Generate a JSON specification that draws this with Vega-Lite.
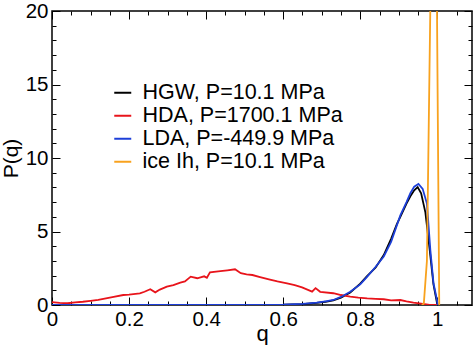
{
  "$schema": "https://vega.github.io/schema/vega-lite/v6.json",
  "width": 420,
  "height": 294,
  "autosize": "none",
  "padding": {"left": 52, "top": 11, "right": 2, "bottom": 40},
  "config": {
    "view": {"stroke": "#000000", "strokeWidth": 1.5},
    "font": "Liberation Sans",
    "axis": {"grid": false, "domain": false, "labelFont": "Liberation Sans", "labelFontSize": 20.5, "labelColor": "#000000", "titleFont": "Liberation Sans", "titleFontWeight": "normal", "titleColor": "#000000", "tickColor": "#000000", "tickWidth": 1, "labelFlush": false, "labelOverlap": false}
  },
  "data": {"values": [
    {"s": "HGW, P=10.1 MPa", "q": 0.0, "P": 0},
    {"s": "HGW, P=10.1 MPa", "q": 0.4, "P": 0},
    {"s": "HGW, P=10.1 MPa", "q": 0.6, "P": 0.02},
    {"s": "HGW, P=10.1 MPa", "q": 0.65, "P": 0.06},
    {"s": "HGW, P=10.1 MPa", "q": 0.687, "P": 0.14},
    {"s": "HGW, P=10.1 MPa", "q": 0.71, "P": 0.22},
    {"s": "HGW, P=10.1 MPa", "q": 0.73, "P": 0.32},
    {"s": "HGW, P=10.1 MPa", "q": 0.75, "P": 0.5},
    {"s": "HGW, P=10.1 MPa", "q": 0.774, "P": 0.85},
    {"s": "HGW, P=10.1 MPa", "q": 0.8, "P": 1.45},
    {"s": "HGW, P=10.1 MPa", "q": 0.817, "P": 1.95},
    {"s": "HGW, P=10.1 MPa", "q": 0.84, "P": 2.55},
    {"s": "HGW, P=10.1 MPa", "q": 0.861, "P": 3.4},
    {"s": "HGW, P=10.1 MPa", "q": 0.88, "P": 4.5},
    {"s": "HGW, P=10.1 MPa", "q": 0.895, "P": 5.5},
    {"s": "HGW, P=10.1 MPa", "q": 0.904, "P": 6.0},
    {"s": "HGW, P=10.1 MPa", "q": 0.92, "P": 6.9},
    {"s": "HGW, P=10.1 MPa", "q": 0.93, "P": 7.4},
    {"s": "HGW, P=10.1 MPa", "q": 0.94, "P": 7.8},
    {"s": "HGW, P=10.1 MPa", "q": 0.949, "P": 8.02},
    {"s": "HGW, P=10.1 MPa", "q": 0.958, "P": 7.6},
    {"s": "HGW, P=10.1 MPa", "q": 0.969, "P": 6.3},
    {"s": "HGW, P=10.1 MPa", "q": 0.98, "P": 3.8},
    {"s": "HGW, P=10.1 MPa", "q": 0.99, "P": 1.4},
    {"s": "HGW, P=10.1 MPa", "q": 0.998, "P": 0.3},
    {"s": "HGW, P=10.1 MPa", "q": 1.0, "P": 0},

    {"s": "HDA, P=1700.1 MPa", "q": 0.0, "P": 0.2},
    {"s": "HDA, P=1700.1 MPa", "q": 0.02, "P": 0.15},
    {"s": "HDA, P=1700.1 MPa", "q": 0.04, "P": 0.12},
    {"s": "HDA, P=1700.1 MPa", "q": 0.06, "P": 0.18},
    {"s": "HDA, P=1700.1 MPa", "q": 0.08, "P": 0.22},
    {"s": "HDA, P=1700.1 MPa", "q": 0.1, "P": 0.28},
    {"s": "HDA, P=1700.1 MPa", "q": 0.12, "P": 0.35},
    {"s": "HDA, P=1700.1 MPa", "q": 0.14, "P": 0.45},
    {"s": "HDA, P=1700.1 MPa", "q": 0.16, "P": 0.55},
    {"s": "HDA, P=1700.1 MPa", "q": 0.185, "P": 0.68},
    {"s": "HDA, P=1700.1 MPa", "q": 0.2, "P": 0.7},
    {"s": "HDA, P=1700.1 MPa", "q": 0.228, "P": 0.79},
    {"s": "HDA, P=1700.1 MPa", "q": 0.24, "P": 0.9},
    {"s": "HDA, P=1700.1 MPa", "q": 0.255, "P": 1.07},
    {"s": "HDA, P=1700.1 MPa", "q": 0.268, "P": 0.86},
    {"s": "HDA, P=1700.1 MPa", "q": 0.28, "P": 1.05},
    {"s": "HDA, P=1700.1 MPa", "q": 0.298, "P": 1.25},
    {"s": "HDA, P=1700.1 MPa", "q": 0.315, "P": 1.35},
    {"s": "HDA, P=1700.1 MPa", "q": 0.333, "P": 1.52},
    {"s": "HDA, P=1700.1 MPa", "q": 0.345, "P": 1.6},
    {"s": "HDA, P=1700.1 MPa", "q": 0.36, "P": 1.93},
    {"s": "HDA, P=1700.1 MPa", "q": 0.377, "P": 1.82},
    {"s": "HDA, P=1700.1 MPa", "q": 0.395, "P": 1.95},
    {"s": "HDA, P=1700.1 MPa", "q": 0.402, "P": 1.85},
    {"s": "HDA, P=1700.1 MPa", "q": 0.41, "P": 2.22},
    {"s": "HDA, P=1700.1 MPa", "q": 0.437, "P": 2.3},
    {"s": "HDA, P=1700.1 MPa", "q": 0.455, "P": 2.36},
    {"s": "HDA, P=1700.1 MPa", "q": 0.475, "P": 2.43},
    {"s": "HDA, P=1700.1 MPa", "q": 0.49, "P": 2.16},
    {"s": "HDA, P=1700.1 MPa", "q": 0.505, "P": 2.08},
    {"s": "HDA, P=1700.1 MPa", "q": 0.52, "P": 2.04},
    {"s": "HDA, P=1700.1 MPa", "q": 0.54, "P": 1.9},
    {"s": "HDA, P=1700.1 MPa", "q": 0.563, "P": 1.75},
    {"s": "HDA, P=1700.1 MPa", "q": 0.585, "P": 1.6},
    {"s": "HDA, P=1700.1 MPa", "q": 0.61, "P": 1.47},
    {"s": "HDA, P=1700.1 MPa", "q": 0.63, "P": 1.35},
    {"s": "HDA, P=1700.1 MPa", "q": 0.649, "P": 1.2},
    {"s": "HDA, P=1700.1 MPa", "q": 0.675, "P": 0.91},
    {"s": "HDA, P=1700.1 MPa", "q": 0.684, "P": 1.15},
    {"s": "HDA, P=1700.1 MPa", "q": 0.696, "P": 0.9},
    {"s": "HDA, P=1700.1 MPa", "q": 0.73, "P": 0.8},
    {"s": "HDA, P=1700.1 MPa", "q": 0.75, "P": 0.68},
    {"s": "HDA, P=1700.1 MPa", "q": 0.774, "P": 0.57},
    {"s": "HDA, P=1700.1 MPa", "q": 0.795, "P": 0.5},
    {"s": "HDA, P=1700.1 MPa", "q": 0.818, "P": 0.45},
    {"s": "HDA, P=1700.1 MPa", "q": 0.84, "P": 0.42},
    {"s": "HDA, P=1700.1 MPa", "q": 0.861, "P": 0.39},
    {"s": "HDA, P=1700.1 MPa", "q": 0.88, "P": 0.32},
    {"s": "HDA, P=1700.1 MPa", "q": 0.904, "P": 0.34},
    {"s": "HDA, P=1700.1 MPa", "q": 0.92, "P": 0.25},
    {"s": "HDA, P=1700.1 MPa", "q": 0.938, "P": 0.16},
    {"s": "HDA, P=1700.1 MPa", "q": 0.963, "P": 0.07},
    {"s": "HDA, P=1700.1 MPa", "q": 0.98, "P": 0.0},
    {"s": "HDA, P=1700.1 MPa", "q": 1.0, "P": 0.0},

    {"s": "LDA, P=-449.9 MPa", "q": 0.0, "P": 0},
    {"s": "LDA, P=-449.9 MPa", "q": 0.4, "P": 0},
    {"s": "LDA, P=-449.9 MPa", "q": 0.6, "P": 0.03},
    {"s": "LDA, P=-449.9 MPa", "q": 0.65, "P": 0.08},
    {"s": "LDA, P=-449.9 MPa", "q": 0.687, "P": 0.16},
    {"s": "LDA, P=-449.9 MPa", "q": 0.71, "P": 0.25},
    {"s": "LDA, P=-449.9 MPa", "q": 0.73, "P": 0.34},
    {"s": "LDA, P=-449.9 MPa", "q": 0.75, "P": 0.55},
    {"s": "LDA, P=-449.9 MPa", "q": 0.774, "P": 0.9},
    {"s": "LDA, P=-449.9 MPa", "q": 0.8, "P": 1.4},
    {"s": "LDA, P=-449.9 MPa", "q": 0.817, "P": 1.9},
    {"s": "LDA, P=-449.9 MPa", "q": 0.84, "P": 2.6},
    {"s": "LDA, P=-449.9 MPa", "q": 0.861, "P": 3.3},
    {"s": "LDA, P=-449.9 MPa", "q": 0.88, "P": 4.3},
    {"s": "LDA, P=-449.9 MPa", "q": 0.904, "P": 6.1},
    {"s": "LDA, P=-449.9 MPa", "q": 0.92, "P": 7.0},
    {"s": "LDA, P=-449.9 MPa", "q": 0.93, "P": 7.6},
    {"s": "LDA, P=-449.9 MPa", "q": 0.94, "P": 8.05},
    {"s": "LDA, P=-449.9 MPa", "q": 0.951, "P": 8.23},
    {"s": "LDA, P=-449.9 MPa", "q": 0.962, "P": 7.9},
    {"s": "LDA, P=-449.9 MPa", "q": 0.973, "P": 6.9},
    {"s": "LDA, P=-449.9 MPa", "q": 0.982, "P": 3.7},
    {"s": "LDA, P=-449.9 MPa", "q": 0.99, "P": 1.5},
    {"s": "LDA, P=-449.9 MPa", "q": 0.999, "P": 0.34},
    {"s": "LDA, P=-449.9 MPa", "q": 1.001, "P": 0},

    {"s": "ice Ih, P=10.1 MPa", "q": 0.96, "P": 0},
    {"s": "ice Ih, P=10.1 MPa", "q": 0.965, "P": 0.1},
    {"s": "ice Ih, P=10.1 MPa", "q": 0.973, "P": 3},
    {"s": "ice Ih, P=10.1 MPa", "q": 0.982, "P": 20.5},
    {"s": "ice Ih, P=10.1 MPa", "q": 0.99, "P": 45},
    {"s": "ice Ih, P=10.1 MPa", "q": 0.999, "P": 20.5},
    {"s": "ice Ih, P=10.1 MPa", "q": 1.005, "P": 0}
  ]},
  "layer": [
    {
      "mark": {"type": "line", "clip": true, "strokeWidth": 1.8},
      "encoding": {
        "x": {"field": "q", "type": "quantitative", "scale": {"domain": [0, 1.09], "nice": false, "zero": false},
              "axis": {"orient": "bottom", "values": [0, 0.2, 0.4, 0.6, 0.8, 1], "format": "~g", "ticks": false, "labelPadding": 4, "title": "q", "titleFontSize": 22, "titlePadding": -6}},
        "y": {"field": "P", "type": "quantitative", "scale": {"domain": [0, 20], "nice": false},
              "axis": {"orient": "left", "values": [0, 5, 10, 15, 20], "format": "d", "ticks": false, "labelPadding": 4, "title": "P(q)", "titleFontSize": 21, "titlePadding": 4}},
        "color": {"field": "s", "type": "nominal",
                  "scale": {"domain": ["HGW, P=10.1 MPa", "HDA, P=1700.1 MPa", "LDA, P=-449.9 MPa", "ice Ih, P=10.1 MPa"], "range": ["#000000", "#e8141b", "#1d3fd8", "#f8a21e"]},
                  "legend": {"orient": "none", "legendX": 60, "legendY": 71, "direction": "vertical", "title": null, "symbolType": "stroke", "symbolSize": 289, "symbolStrokeWidth": 2, "labelFontSize": 21.5, "labelFont": "Liberation Sans", "labelColor": "#000000", "labelOffset": 9, "rowPadding": 0, "labelLimit": 400}}
      }
    },
    {
      "mark": {"type": "point", "opacity": 0},
      "encoding": {
        "x": {"field": "q", "type": "quantitative", "axis": {"orient": "bottom", "values": [0, 0.2, 0.4, 0.6, 0.8, 1], "labels": false, "tickSize": -8, "title": null}},
        "y": {"field": "P", "type": "quantitative", "axis": {"orient": "left", "values": [0, 5, 10, 15, 20], "labels": false, "tickSize": -8, "title": null}}
      }
    },
    {
      "mark": {"type": "point", "opacity": 0},
      "encoding": {
        "x": {"field": "q", "type": "quantitative", "axis": {"orient": "bottom", "values": [0.05, 0.1, 0.15, 0.25, 0.3, 0.35, 0.45, 0.5, 0.55, 0.65, 0.7, 0.75, 0.85, 0.9, 0.95, 1.05], "labels": false, "tickSize": -4, "title": null}},
        "y": {"field": "P", "type": "quantitative", "axis": {"orient": "left", "values": [1, 2, 3, 4, 6, 7, 8, 9, 11, 12, 13, 14, 16, 17, 18, 19], "labels": false, "tickSize": -4, "title": null}}
      }
    },
    {
      "mark": {"type": "point", "opacity": 0},
      "encoding": {
        "x": {"field": "q", "type": "quantitative", "axis": {"orient": "top", "values": [0, 0.2, 0.4, 0.6, 0.8, 1], "labels": false, "tickSize": -8, "title": null}},
        "y": {"field": "P", "type": "quantitative", "axis": {"orient": "right", "values": [0, 5, 10, 15, 20], "labels": false, "tickSize": -8, "title": null}}
      }
    },
    {
      "mark": {"type": "point", "opacity": 0},
      "encoding": {
        "x": {"field": "q", "type": "quantitative", "axis": {"orient": "top", "values": [0.05, 0.1, 0.15, 0.25, 0.3, 0.35, 0.45, 0.5, 0.55, 0.65, 0.7, 0.75, 0.85, 0.9, 0.95, 1.05], "labels": false, "tickSize": -4, "title": null}},
        "y": {"field": "P", "type": "quantitative", "axis": {"orient": "right", "values": [1, 2, 3, 4, 6, 7, 8, 9, 11, 12, 13, 14, 16, 17, 18, 19], "labels": false, "tickSize": -4, "title": null}}
      }
    }
  ],
  "resolve": {"axis": {"x": "independent", "y": "independent"}}
}
